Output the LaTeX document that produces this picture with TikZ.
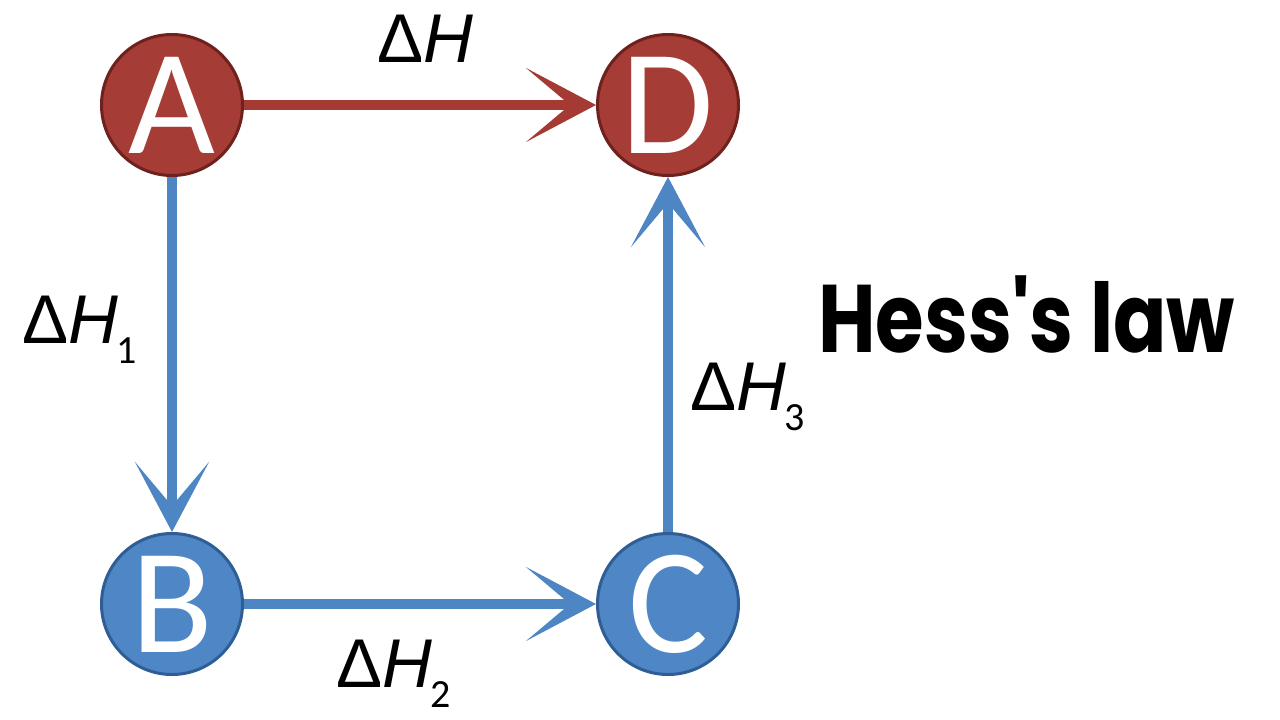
\documentclass[tikz,border=0pt]{standalone}
\usepackage{fontspec}
\setmainfont{Liberation Sans}
\newfontfamily\circfont{Carlito}
\newfontfamily\titlefont{Poppins}
\usetikzlibrary{arrows.meta}
\definecolor{redfill}{HTML}{A63C36}
\definecolor{redline}{HTML}{6E211D}
\definecolor{bluefill}{HTML}{4F86C6}
\definecolor{blueline}{HTML}{2E5E95}
\definecolor{bluearrow}{HTML}{4E86C4}
\definecolor{redarrow}{HTML}{A53A35}
\newcommand{\dHsub}[1]{Δ\textit{H}\kern-2pt\raisebox{-20pt}{\fontsize{40}{40}\selectfont\circfont #1}}
\tikzset{
  state/.style={circle, minimum size=141pt, inner sep=0pt, line width=3pt,
    text=white, font=\circfont\fontsize{150}{150}\selectfont},
  redstate/.style={state, fill=redfill, draw=redline},
  bluestate/.style={state, fill=bluefill, draw=blueline},
  conn/.style={line width=10pt, -{Stealth[length=70pt, width=74pt, inset=44pt]}},
  redconn/.style={conn, draw=redarrow, fill=redarrow},
  blueconn/.style={conn, draw=bluearrow, fill=bluearrow},
  lab/.style={inner sep=0pt, anchor=base west, font=\fontsize{69}{69}\selectfont}
}
\begin{document}
\begin{tikzpicture}[x=1pt,y=-1pt]
\useasboundingbox[fill=white] (0,0) rectangle (1280,720);
\node[redstate] (A) at (172,105) {A};
\node[redstate] (D) at (668,105) {D};
\node[bluestate] (B) at (172,604) {B};
\node[bluestate] (C) at (668,604) {C};
\draw[redconn] (A) -- (D);
\draw[blueconn] (A) -- (B);
\draw[blueconn] (B) -- (C);
\draw[blueconn] (C) -- (D);
\node[lab] (lAD) at (377,62) {Δ\textit{H}};
\node[lab] (lAB) at (22,343) {\dHsub{1}};
\node[lab] (lBC) at (336,687) {\dHsub{2}};
\node[lab] (lCD) at (690,410) {\dHsub{3}};
\node[inner sep=0pt, anchor=base west, font=\titlefont\bfseries\fontsize{96}{96}\selectfont] (title) at (818,352) {\scalebox{0.82}[1]{Hess's law}};
\end{tikzpicture}
\end{document}
